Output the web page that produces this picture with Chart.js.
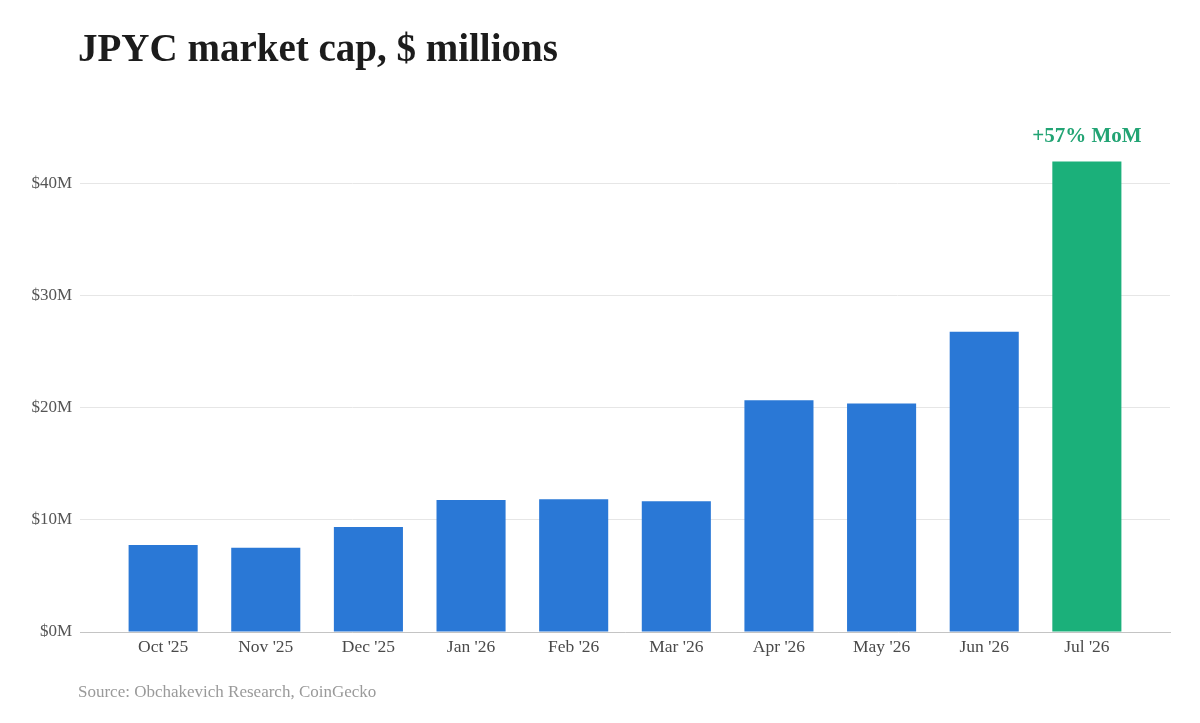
<!DOCTYPE html>
<html>
<head>
<meta charset="utf-8">
<script src="https://cdn.jsdelivr.net/npm/chart.js@4.4.1/dist/chart.umd.min.js"></script>
<style>
  html, body { margin: 0; padding: 0; background: #fff; }
  #wrap { position: relative; width: 1200px; height: 723px; }
  #title { position: absolute; left: 78px; top: 25px; font: bold 39px "Liberation Serif", serif; color: #1c1c1c; }
  #source { position: absolute; left: 78px; top: 682px; font: 17px "Liberation Serif", serif; color: #9a9a9a; }
  canvas { position: absolute; left: 0; top: 0; }
</style>
</head>
<body>
<div id="wrap">
  <canvas id="chart" width="1200" height="723"></canvas>
  <div id="title">JPYC market cap, $ millions</div>
  <div id="source">Source: Obchakevich Research, CoinGecko</div>
</div>
<script>
// Data
const months = ["Oct '25", "Nov '25", "Dec '25", "Jan '26", "Feb '26", "Mar '26", "Apr '26", "May '26", "Jun '26", "Jul '26"];
const marketCap = [7.75, 7.5, 9.35, 11.76, 11.82, 11.64, 20.64, 20.37, 26.75, 41.93];
const yTicks = [0, 10, 20, 30, 40];

const blue = '#2a78d6';
const green = '#1bb07a';
const serif = '"Liberation Serif", serif';

// label above the last bar with month-on-month growth
const momLabel = {
  id: 'momLabel',
  afterDatasetsDraw(chart) {
    const meta = chart.getDatasetMeta(0);
    const last = marketCap.length - 1;
    const bar = meta.data[last];
    const pct = Math.round((marketCap[last] / marketCap[last - 1] - 1) * 100);
    const ctx = chart.ctx;
    ctx.save();
    ctx.font = 'bold 21px ' + serif;
    ctx.fillStyle = '#22a474';
    ctx.textAlign = 'center';
    ctx.textBaseline = 'middle';
    ctx.fillText('+' + pct + '% MoM', bar.x, bar.y - 25);
    ctx.restore();
  }
};

new Chart(document.getElementById('chart').getContext('2d'), {
  type: 'bar',
  data: {
    datasets: [{
      data: marketCap.map((v, i) => ({ x: i, y: v })),
      backgroundColor: marketCap.map((v, i) => i === marketCap.length - 1 ? green : blue),
      barPercentage: 0.673,
      categoryPercentage: 1
    }]
  },
  options: {
    responsive: false,
    animation: false,
    layout: { padding: { top: 127, right: 30, left: 0, bottom: 0 } },
    plugins: { legend: { display: false }, tooltip: { enabled: false } },
    scales: {
      x: {
        type: 'linear',
        offset: false,
        min: -0.81,
        max: 9.81,
        afterBuildTicks: (scale) => { scale.ticks = months.map((m, i) => ({ value: i })); },
        afterFit: (scale) => { scale.height = 91; },
        grid: { display: false, drawTicks: false },
        border: { color: '#c4c4c4', width: 1 },
        ticks: {
          autoSkip: false,
          maxRotation: 0,
          padding: 5,
          color: '#4a4a4a',
          font: { family: serif, size: 17.5 },
          callback: (v) => months[v]
        }
      },
      y: {
        min: 0,
        max: 45,
        afterBuildTicks: (scale) => { scale.ticks = yTicks.map(v => ({ value: v })); },
        afterFit: (scale) => { scale.width = 80; },
        border: { display: false },
        grid: { color: '#e6e6e6', lineWidth: 1, drawTicks: false },
        ticks: {
          padding: 8,
          color: '#555',
          font: { family: serif, size: 17 },
          callback: (v) => '$' + v + 'M'
        }
      }
    }
  },
  plugins: [momLabel]
});
</script>
</body>
</html>
